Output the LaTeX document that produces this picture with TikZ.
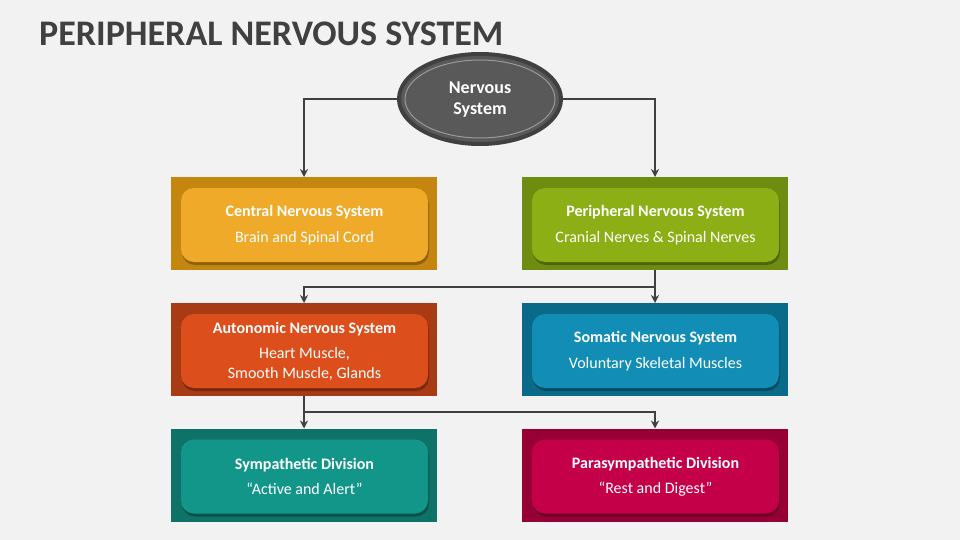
\documentclass[tikz,border=0pt]{standalone}
\usepackage{fontspec}
\setmainfont{Carlito}
\usetikzlibrary{arrows.meta,shapes.geometric}
\definecolor{bg}{HTML}{F2F2F2}
\definecolor{dk}{HTML}{404040}
\definecolor{ellfill}{HTML}{595959}
\definecolor{ring}{HTML}{9A9A9A}
\definecolor{cnsO}{HTML}{C4860F}\definecolor{cnsI}{HTML}{F0AA2A}
\definecolor{pnsO}{HTML}{6E8C10}\definecolor{pnsI}{HTML}{8BAF14}
\definecolor{ansO}{HTML}{A83A14}\definecolor{ansI}{HTML}{DC4E1C}
\definecolor{snsO}{HTML}{0A6A8A}\definecolor{snsI}{HTML}{128DB5}
\definecolor{symO}{HTML}{0E7268}\definecolor{symI}{HTML}{13968A}
\definecolor{parO}{HTML}{960034}\definecolor{parI}{HTML}{C30048}
\tikzset{
  outerbox/.style={minimum width=266pt, minimum height=93pt, inner sep=0pt, outer sep=0pt, fill=#1},
  shadowbox/.style={rounded corners=13pt, minimum width=247pt, minimum height=74pt, inner sep=0pt, fill=black, fill opacity=0.28},
  innerbox/.style={rounded corners=13pt, minimum width=247pt, minimum height=74pt, inner sep=0pt, fill=#1, text=white, align=center, font=\fontsize{16}{19.5}\selectfont},
  conn/.style={draw=dk, line width=1.8pt, -{Stealth[length=8pt,width=8pt]}},
}
\begin{document}
\begin{tikzpicture}[x=1pt,y=-1pt]
\fill[bg] (0,0) rectangle (960,540);
\useasboundingbox (0,0) rectangle (960,540);

\node[anchor=base west, font=\fontsize{36}{36}\selectfont\bfseries, text=dk, inner sep=0pt] (title) at (39,46) {PERIPHERAL NERVOUS SYSTEM};

% ellipse
\node[ellipse, minimum width=162pt, minimum height=90pt, fill=ellfill, draw=dk, line width=4pt] (ns) at (480,99) {};
\node[ellipse, minimum width=150pt, minimum height=78pt, draw=ring, line width=1pt] (nsring) at (480,99) {};
\node[text=white, align=center, font=\fontsize{18}{21}\selectfont\bfseries] (nslabel) at (480,100) {Nervous\\System};

% boxes
\newcommand{\mybox}[6]{%
  \node[outerbox=#2] (#1) at (#3,#4) {};
  \node[shadowbox] (#1-sh) at (#3+1.5,#4+4.5) {};
  \node[innerbox=#5] (#1-in) at (#3+0.5,#4+1.5) {#6};
}
\mybox{cns}{cnsO}{304}{223.5}{cnsI}{\textbf{Central Nervous System}\\[6pt]Brain and Spinal Cord}
\mybox{pns}{pnsO}{655}{223.5}{pnsI}{\textbf{Peripheral Nervous System}\\[6pt]Cranial Nerves \& Spinal Nerves}
\mybox{ans}{ansO}{304}{349.5}{ansI}{\textbf{Autonomic Nervous System}\\[6pt]Heart Muscle,\\Smooth Muscle, Glands}
\mybox{sns}{snsO}{655}{349.5}{snsI}{\textbf{Somatic Nervous System}\\[6pt]Voluntary Skeletal Muscles}
\mybox{sym}{symO}{304}{475}{symI}{\textbf{Sympathetic Division}\\[6pt]“Active and Alert”}
\mybox{par}{parO}{655}{475}{parI}{\textbf{Parasympathetic Division}\\[6pt]“Rest and Digest”}

% connectors
\draw[conn] (ns.west) -| (cns.north);
\draw[conn] (ns.east) -| (pns.north);
\draw[conn] (pns.south) -- (sns.north);
\coordinate (b1) at (655,287);
\draw[conn] (b1) -| (ans.north);
\draw[conn] (ans.south) -- (sym.north);
\coordinate (b2) at (304,412);
\draw[conn] (b2) -| (par.north);
\end{tikzpicture}
\end{document}
